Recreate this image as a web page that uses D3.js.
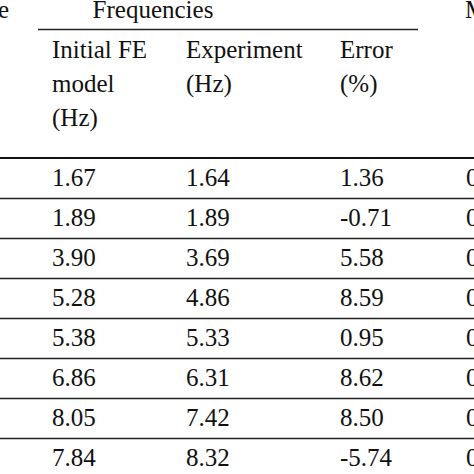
<!DOCTYPE html><html><head><meta charset="utf-8"><script src="https://cdn.jsdelivr.net/npm/d3@7"></script>
<style>body{margin:0;background:#fff}</style></head><body><script>
const initialFE=["1.67","1.89","3.90","5.28","5.38","6.86","8.05","7.84"];
const experiment=["1.64","1.89","3.69","4.86","5.33","6.31","7.42","8.32"];
const errorPct=["1.36","-0.71","5.58","8.59","0.95","8.62","8.50","-5.74"];
const colX=[52,186,340];
const W=474,H=474;
const svg=d3.select("body").append("svg").attr("width",W).attr("height",H);
const f="'Liberation Serif','Times New Roman',serif";
const t=(x,y,s,a)=>svg.append("text").attr("x",x).attr("y",y).attr("font-family",f).attr("font-size",25).attr("fill","#111").attr("text-anchor",a||"start").text(s);
t(9,18,"Mode","end");
t(153,18,"Frequencies","middle");
t(465,18,"MAC");
svg.append("line").attr("x1",38).attr("x2",418).attr("y1",29.5).attr("y2",29.5).attr("stroke","#222").attr("stroke-width",1.3);
[["Initial FE","model","(Hz)"],["Experiment","(Hz)"],["Error","(%)"]].forEach((c,i)=>c.forEach((s,j)=>t(colX[i],58+j*34,s)));
const y=d3.scaleBand().domain(d3.range(8)).range([158,478]);
svg.append("line").attr("x1",0).attr("x2",W).attr("y1",158).attr("y2",158).attr("stroke","#111").attr("stroke-width",2.2);
d3.range(1,8).forEach(i=>svg.append("line").attr("x1",0).attr("x2",W).attr("y1",y(i)+0.5).attr("y2",y(i)+0.5).attr("stroke","#222").attr("stroke-width",1.5));
[initialFE,experiment,errorPct].forEach((arr,ci)=>arr.forEach((v,r)=>t(colX[ci],y(r)+y.bandwidth()/2+8,v)));
d3.range(8).forEach(r=>t(466,y(r)+y.bandwidth()/2+8,"0.99"));
</script></body></html>
